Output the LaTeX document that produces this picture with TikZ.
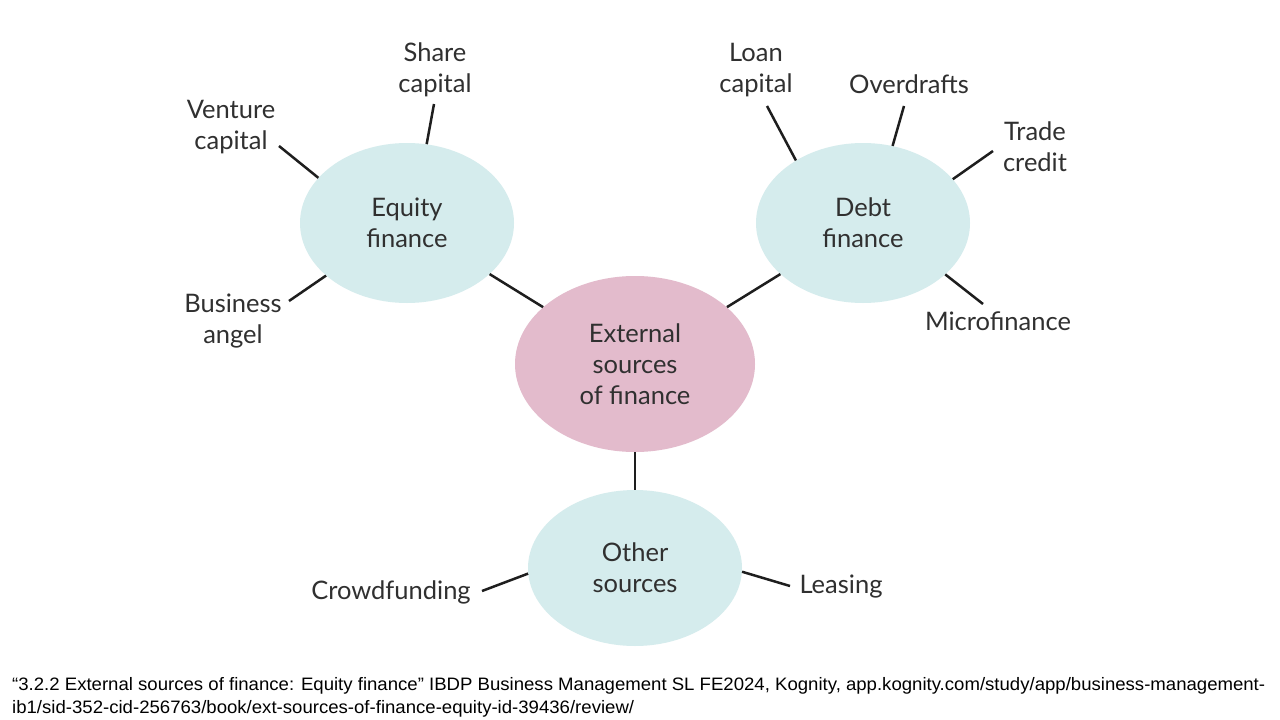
\documentclass[tikz,border=0pt]{standalone}
\usepackage{fontspec}
\setmainfont{Lato}
\newfontfamily\footfont{Liberation Sans}
\usetikzlibrary{shapes.geometric}
\definecolor{bluefill}{HTML}{D5ECED}
\definecolor{pinkfill}{HTML}{E3BBCC}
\definecolor{txt}{HTML}{303030}
\definecolor{ln}{HTML}{1E1E1E}
\tikzset{
  bubble/.style={ellipse, fill=bluefill, draw=none, inner sep=0pt, minimum width=214pt, minimum height=160pt,
    text=txt, align=center, font=\fontsize{25.5}{31}\selectfont},
  centre/.style={bubble, fill=pinkfill, minimum width=240pt, minimum height=176pt},
  lbl/.style={inner sep=0pt, text=txt, align=center, font=\fontsize{25.5}{31}\selectfont},
  conn/.style={draw=ln, line width=2.5pt},
}
\begin{document}
\begin{tikzpicture}[x=1pt,y=-1pt]
\useasboundingbox[fill=white] (0,0) rectangle (1280,720);
% bubbles
\node[bubble] (eq) at (407,223) {Equity\\finance};
\node[bubble] (debt) at (863,223) {Debt\\finance};
\node[centre] (ext) at (635,364) {External\\sources\\of finance};
\node[bubble, minimum height=156pt] (oth) at (635,568) {Other\\sources};
% labels
\node[lbl] (sc) at (435,70) {Share\\capital};
\node[lbl] (vc) at (231,127) {Venture\\capital};
\node[lbl] (ba) at (233,321) {Business\\angel};
\node[lbl] (lc) at (756,70) {Loan\\capital};
\node[lbl] (od) at (909,84) {Overdrafts};
\node[lbl] (tc) at (1035,147) {Trade\\credit};
\node[lbl] (mf) at (998,321) {Microfinance};
\node[lbl] (cf) at (391,592) {Crowdfunding};
\node[lbl] (ls) at (841,587) {Leasing};
% free ends
\coordinate (scEnd) at (434,104);
\coordinate (vcEnd) at (279,146);
\coordinate (baEnd) at (289,301);
\coordinate (lcEnd) at (767,106);
\coordinate (odEnd) at (904,106);
\coordinate (tcEnd) at (993,151);
\coordinate (mfEnd) at (983,304);
\coordinate (cfEnd) at (482,591);
\coordinate (lsEnd) at (790,586);
% connectors
\draw[conn] (eq.76.5) -- (scEnd);
\draw[conn] (eq.153.2) -- (vcEnd);
\draw[conn] (eq.213.8) -- (baEnd);
\draw[conn] (eq) -- (ext);
\draw[conn] (debt) -- (ext);
\draw[conn] (ext) -- (oth);
\draw[conn] (debt.137.3) -- (lcEnd);
\draw[conn] (debt.69.3) -- (odEnd);
\draw[conn] (debt.26.6) -- (tcEnd);
\draw[conn] (debt.-32.6) -- (mfEnd);
\draw[conn] (oth.183.2) -- (cfEnd);
\draw[conn] (oth.-2.1) -- (lsEnd);
% footer
\node[anchor=base west, inner sep=0pt, text=black, font=\footfont\fontsize{18}{23}\selectfont] (f1) at (12,690)
  {\resizebox{1253pt}{\height}{“3.2.2 External sources of finance: Equity finance” IBDP Business Management SL FE2024, Kognity, app.kognity.com/study/app/business-management-}};
\node[anchor=base west, inner sep=0pt, text=black, font=\footfont\fontsize{18}{23}\selectfont] (f2) at (12,713)
  {\resizebox{622pt}{\height}{ib1/sid-352-cid-256763/book/ext-sources-of-finance-equity-id-39436/review/}};
\end{tikzpicture}
\end{document}
